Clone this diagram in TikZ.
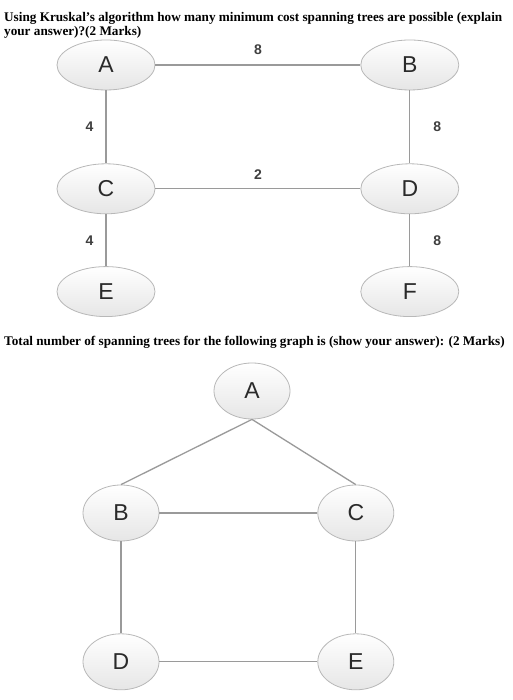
\documentclass[tikz,border=0pt]{standalone}
\usepackage{fontspec}
\setmainfont{Liberation Serif}
\setsansfont{Liberation Sans}
\usepackage{tikz}
\usetikzlibrary{positioning,shapes.geometric}
\definecolor{EdgeGray}{HTML}{9A9A9A}
\definecolor{RimGray}{HTML}{B8B8B8}
\definecolor{FillGray}{HTML}{E6E6E6}
\definecolor{InkGray}{HTML}{2A2A2A}

\begin{document}
\begin{tikzpicture}[x=1pt,y=1pt,
  vert/.style={ellipse,draw=RimGray,line width=0.8pt,top color=white,bottom color=FillGray,
    inner sep=0pt,font=\sffamily\fontsize{23}{26}\selectfont,text=InkGray},
  kvert/.style={vert,minimum width=98pt,minimum height=50pt},
  svert/.style={vert,minimum width=76pt,minimum height=56pt},
  edge/.style={draw=EdgeGray,line width=1.3pt},
  wt/.style={font=\sffamily\bfseries\fontsize{14}{16}\selectfont,text=InkGray!90,inner sep=2pt},
  head/.style={anchor=base west,inner sep=0pt,font=\bfseries\fontsize{13.2}{14}\selectfont,align=left}
]
\useasboundingbox (0,0) rectangle (512,700);
\fill[white] (0,0) rectangle (512,700);
% Kruskal question
\node[head] (q1) at (4,664) {Using Kruskal's algorithm how many minimum cost spanning trees are possible (explain\\your answer)?(2 Marks)};
\node[kvert] (ka) at (106,635) {A};
\node[kvert,right=205pt of ka] (kb) {B};
\node[kvert,below=73pt of ka] (kc) {C};
\node[kvert,below=73pt of kb] (kd) {D};
\node[kvert,below=52pt of kc] (ke) {E};
\node[kvert,below=52pt of kd] (kf) {F};
\draw[edge] (ka) -- node[wt,above=8pt] {8} (kb);
\draw[edge] (ka) -- node[wt,left=10pt] {4} (kc);
\draw[edge] (kb) -- node[wt,right=21pt] {8} (kd);
\draw[edge] (kc) -- node[wt,above=7pt] {2} (kd);
\draw[edge] (kc) -- node[wt,left=10pt] {4} (ke);
\draw[edge] (kd) -- node[wt,right=21pt] {8} (kf);
% spanning tree count question
\node[head] (q2) at (4,354) {Total number of spanning trees for the following graph is (show your answer): (2 Marks)};
\node[svert] (sa) at (252,309) {A};
\node[svert] (sb) at (121,187) {B};
\node[svert,right=158pt of sb] (sc) {C};
\node[svert,below=92pt of sb] (sd) {D};
\node[svert,below=92pt of sc] (se) {E};
\draw[edge] (sa.south) -- (sb.north);
\draw[edge] (sa.south) -- (sc.north);
\draw[edge] (sb) -- (sc);
\draw[edge] (sb) -- (sd);
\draw[edge] (sc) -- (se);
\draw[edge] (sd) -- (se);
\end{tikzpicture}
\end{document}
